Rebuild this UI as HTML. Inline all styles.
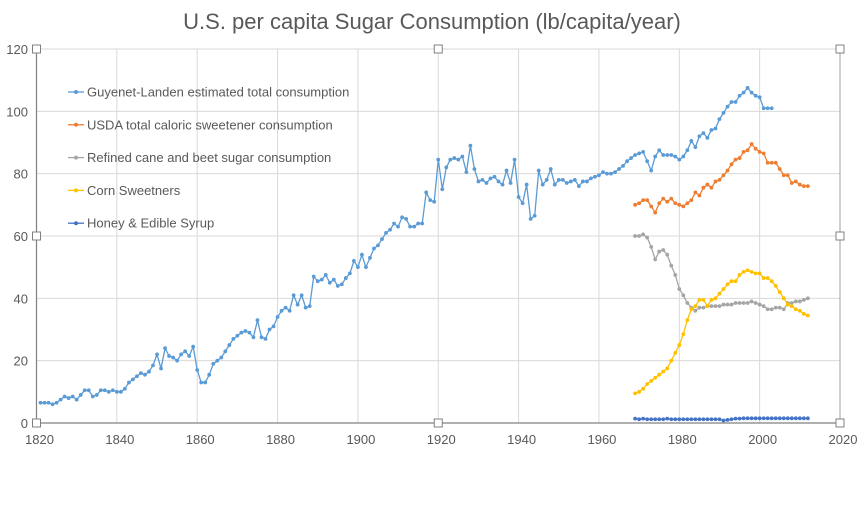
<!DOCTYPE html>
<html><head><meta charset="utf-8"><style>
body{margin:0;background:#fff;}
svg{display:block;font-family:"Liberation Sans",sans-serif;}
</style></head><body>
<svg id="chart" width="861" height="514" viewBox="0 0 861 514">
<text x="432" y="29" text-anchor="middle" font-size="22" fill="#595959">U.S. per capita Sugar Consumption (lb/capita/year)</text>
<g id="grid"></g>
<g id="axes"></g>
<g id="series"></g>
<g id="legend"></g>
</svg>
<script>
const yTicks=[0,20,40,60,80,100,120];
const xTicks=[1820,1840,1860,1880,1900,1920,1940,1960,1980,2000,2020];
const guyenetStart=1821;
const guyenet=[6.5,6.5,6.5,6,6.5,7.5,8.5,8,8.5,7.5,9,10.5,10.5,8.5,9,10.5,10.5,10,10.5,10,10,11,13,14,15,16,15.5,16.5,18.5,22,17.5,24,21.5,21,20,22,23,21.5,24.5,17,13,13,15.5,19,20,21,23,25,27,28,29,29.5,29,27.5,33,27.5,27,30,31,34,36,37,36,41,38,41,37,37.5,47,45.5,46,47.5,45,46,44,44.5,46.5,48,52,50,54,50,53,56,57,59,61,62,64,63,66,65.5,63,63,64,64,74,71.5,71,84.5,75,82,84.5,85,84.5,85.5,80.5,89,81.5,77.5,78,77,78.5,79,77.5,76.5,81,77,84.5,72.5,70.5,76.5,65.5,66.5,81,76.5,78,81.5,76.5,78,78,77,77.5,78,76,77.5,77.5,78.5,79,79.5,80.5,80,80,80.5,81.5,82.5,84,85,86,86.5,87,84,81,85.5,87.5,86,86,86,85.5,84.5,85.5,87.5,90.5,88.5,92,93,91.5,94,94.5,97.5,99.5,101.5,103,103,105,106,107.5,106,105,104.5,101,101,101];
const usdaStart=1969;
const usda=[70,70.5,71.5,71.5,69.5,67.5,70.5,72,71,72,70.5,70,69.5,70.5,71.5,74,73,75.5,76.5,75.5,77.5,78,79.5,81,83,84.5,85,87,87.5,89.5,88,87,86.5,83.5,83.5,83.5,81.5,79.5,79.5,77,77.5,76.5,76,76];
const refined=[60,60,60.5,59.5,56.5,52.5,55,55.5,54,50.5,47.5,43,41,38.5,37,36,37,37,37.5,37.5,37.5,37.5,38,38,38,38.5,38.5,38.5,38.5,39,38.5,38,37.5,36.5,36.5,37,37,36.5,38.5,38.5,39,39,39.5,40];
const corn=[9.5,10,11,12.5,13.5,14.5,15.5,16.5,17.5,20,22.5,25,28.5,33,36.5,37.5,39.5,39.5,37.5,39.5,40,41.5,43,44.5,45.5,45.5,47.5,48.5,49,48.5,48,48,46.5,46.5,45.5,44,42,40,38,37.5,36.5,36,35,34.5];
const honey=[1.4,1.2,1.4,1.2,1.2,1.2,1.2,1.2,1.4,1.2,1.2,1.2,1.2,1.2,1.2,1.2,1.2,1.2,1.2,1.2,1.2,1.2,0.8,1.0,1.2,1.4,1.4,1.5,1.5,1.5,1.5,1.5,1.5,1.5,1.5,1.5,1.5,1.5,1.5,1.5,1.5,1.5,1.5,1.5];
const legendLabels=["Guyenet-Landen estimated total consumption","USDA total caloric sweetener consumption","Refined cane and beet sugar consumption","Corn Sweetners","Honey & Edible Syrup"];
const colors=["#5b9bd5","#ed7d31","#a5a5a5","#ffc000","#4472c4"];
const NS="http://www.w3.org/2000/svg";
const X0=36.5,X1=840,Y0=423,Y1=49;
function xs(yr){return X0+(yr-1820)*(X1-X0)/200;}
function ys(v){return Y0-v*(Y0-Y1)/120;}
function mk(t,a,p){const e=document.createElementNS(NS,t);for(const k in a)e.setAttribute(k,a[k]);p.appendChild(e);return e;}
const grid=document.getElementById('grid'),axes=document.getElementById('axes'),ser=document.getElementById('series'),leg=document.getElementById('legend');
yTicks.forEach(v=>{if(v>0){const l=mk('line',{x1:X0,x2:X1,y1:ys(v),y2:ys(v),stroke:'#d9d9d9','stroke-width':1},grid);

}
const t=mk('text',{x:28,y:ys(v)+5,'text-anchor':'end','font-size':13,fill:'#595959'},axes);t.textContent=v;

});
xTicks.forEach(v=>{if(v>1820){const l=mk('line',{x1:xs(v),x2:xs(v),y1:Y1,y2:Y0,stroke:'#d9d9d9','stroke-width':1},grid);

}
const t=mk('text',{x:xs(v)+3,y:444,'text-anchor':'middle','font-size':13,fill:'#595959'},axes);t.textContent=v;

});
const ax=mk('line',{x1:X0,x2:X1,y1:Y0,y2:Y0,stroke:'#808080','stroke-width':1.2},axes);


const ay=mk('line',{x1:X0,x2:X0,y1:Y1,y2:Y0,stroke:'#808080','stroke-width':1.2},axes);


const ar=mk('line',{x1:X1,x2:X1,y1:Y1,y2:Y0,stroke:'#a0a0a0','stroke-width':1},axes);


[[X0,Y1],[(X0+X1)/2,Y1],[X1,Y1],[X0,(Y0+Y1)/2],[X1,(Y0+Y1)/2],[X0,Y0],[(X0+X1)/2,Y0],[X1,Y0]].forEach(p=>{
const h=mk('rect',{x:p[0]-4,y:p[1]-4,width:8,height:8,fill:'#fff',stroke:'#808080','stroke-width':1},axes);

});
function draw(data,start,color,name){
const g=mk('g',{},ser);


const pts=data.map((v,i)=>xs(start+i).toFixed(1)+','+ys(v).toFixed(1)).join(' ');
mk('polyline',{points:pts,fill:'none',stroke:color,'stroke-width':1.3},g);
data.forEach((v,i)=>{const c=mk('circle',{cx:xs(start+i),cy:ys(v),r:1.9,fill:color},g);

});}
draw(guyenet,guyenetStart,colors[0],'guyenet-series');
draw(usda,usdaStart,colors[1],'usda-series');
draw(refined,usdaStart,colors[2],'refined-series');
draw(corn,usdaStart,colors[3],'corn-series');
draw(honey,usdaStart,colors[4],'honey-series');
legendLabels.forEach((s,i)=>{const y=92+i*32.8;
const g=mk('g',{},leg);


mk('line',{x1:68,x2:84,y1:y,y2:y,stroke:colors[i],'stroke-width':1.3},g);
mk('circle',{cx:76,cy:y,r:2,fill:colors[i]},g);
const t=mk('text',{x:87,y:y+4.5,'font-size':13,fill:'#595959'},g);t.textContent=s;});
</script>
</body></html>
